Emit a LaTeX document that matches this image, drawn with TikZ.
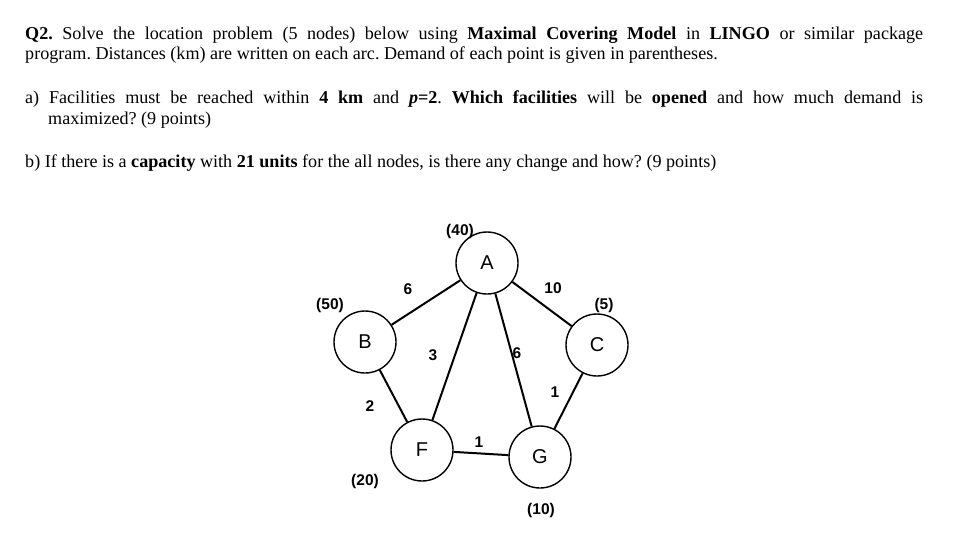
\documentclass[tikz,border=0pt]{standalone}
\usepackage{fontspec}
\setmainfont{Liberation Serif}
\newfontfamily\lsans{Liberation Sans}
\frenchspacing
\begin{document}
\begin{tikzpicture}[x=1pt,y=-1pt,
  txt/.style={anchor=base west,inner sep=0pt,font=\fontsize{18.1}{20}\selectfont},
  nd/.style={circle,draw,line width=1.4pt,minimum size=62pt,inner sep=0pt,font=\lsans\fontsize{20}{22}\selectfont},
  lb/.style={font=\lsans\fontsize{15.5}{18}\selectfont\bfseries,inner sep=1pt},
  ed/.style={line width=2pt}]
\useasboundingbox (0,0) rectangle (955,542);
\node[txt] (l1) at (25,39) {\hbox to 898pt{\textbf{Q2.} Solve the location problem (5 nodes) below using \textbf{Maximal Covering Model} in \textbf{LINGO} or similar package}};
\node[txt] (l2) at (25,59) {program. Distances (km) are written on each arc. Demand of each point is given in parentheses.};
\node[txt] (l3) at (25,103) {\hbox to 898pt{a) Facilities must be reached within \textbf{4 km} and \textit{\textbf{p}}\textbf{=2}. \textbf{Which facilities} will be \textbf{opened} and how much demand is}};
\node[txt] (l4) at (48,124) {maximized? (9 points)};
\node[txt] (l5) at (25,167) {b) If there is a \textbf{capacity} with \textbf{21 units} for the all nodes, is there any change and how? (9 points)};
\node[nd] (A) at (487,263) {A};
\node[nd] (B) at (365,342) {B};
\node[nd] (C) at (597,345) {C};
\node[nd] (F) at (422,450) {F};
\node[nd] (G) at (540,457) {G};
\draw[ed] (A)--(B); \draw[ed] (A)--(F); \draw[ed] (A)--(G); \draw[ed] (A)--(C);
\draw[ed] (B)--(F); \draw[ed] (F)--(G); \draw[ed] (C)--(G);
\node[lb] (dA) at (460,231) {(40)};
\node[lb] (dB) at (330,305) {(50)};
\node[lb] (dC) at (604,305) {(5)};
\node[lb] (dF) at (365,481) {(20)};
\node[lb] (dG) at (541,510) {(10)};
\node[lb] (eAB) at (408,289) {6};
\node[lb] (eAC) at (553,288) {10};
\node[lb] (eAF) at (433,355) {3};
\node[lb] (eAG) at (517,353) {6};
\node[lb] (eCG) at (555,392) {1};
\node[lb] (eBF) at (370,406) {2};
\node[lb] (eFG) at (479,442) {1};
\end{tikzpicture}
\end{document}
